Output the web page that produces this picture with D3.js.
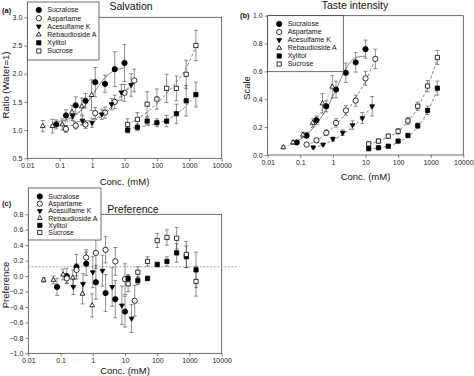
<!DOCTYPE html>
<html lang="en">
<head>
<meta charset="UTF-8">
<title>Sweetener responses</title>
<script src="https://d3js.org/d3.v7.min.js"></script>
<style>
  body { margin: 0; background: #fff; }
  svg { font-family: "Liberation Sans", Arial, sans-serif; }
  .tick text { font-size: 7px; fill: #222; }
  .tick line { stroke: #333; stroke-width: 0.6; }
</style>
</head>
<body>
<div id="chart"></div>
<script>
// concentrations (mM)
const concSucralose = [0.078, 0.156, 0.3125, 0.625, 1.25, 2.5, 5, 10];
const concAspartame = [0.156, 0.3125, 0.625, 1.25, 2.5, 5, 10, 20];
const concAceK = [0.25, 0.5, 1, 2, 4, 8, 16];
const concRebA = [0.03, 0.06, 0.12, 0.24, 0.48, 0.96];
const concXylitol = [12.5, 25, 50, 100, 200, 400, 800, 1600];
const concSucrose = [12.5, 25, 50, 100, 200, 400, 800, 1600];

const seriesNames = ["Sucralose", "Aspartame", "Acesulfame K", "Rebaudioside A", "Xylitol", "Sucrose"];
const xTickValues = [0.01, 0.1, 1, 10, 100, 1000, 10000];
const xTickLabels = ["0.01", "0.1", "1", "10", "100", "1000", "10000"];

// (a) salivation, ratio to water
const salSucralose = [1.10, 1.26, 1.44, 1.52, 1.85, 1.82, 2.08, 2.19];
const salSucraloseErr = [0.08, 0.10, 0.15, 0.13, 0.26, 0.15, 0.31, 0.33];
const salAspartame = [1.02, 1.08, 1.10, 1.30, 1.31, 1.50, 1.66, 1.88];
const salAspartameErr = [0.06, 0.06, 0.07, 0.10, 0.10, 0.12, 0.15, 0.20];
const salAceK = [1.25, 1.17, 1.13, 1.28, 1.46, 1.67, 1.80];
const salAceKErr = [0.08, 0.08, 0.08, 0.09, 0.10, 0.14, 0.20];
const salRebA = [1.07, 1.07, 1.10, 1.32, 1.42, 1.62];
const salRebAErr = [0.10, 0.12, 0.10, 0.12, 0.15, 0.27];
const salXylitol = [1.00, 1.05, 1.16, 1.13, 1.16, 1.29, 1.52, 1.63];
const salXylitolErr = [0.05, 0.06, 0.07, 0.07, 0.10, 0.17, 0.27, 0.22];
const salSucrose = [1.10, 1.19, 1.46, 1.55, 1.74, 1.74, 1.99, 2.50];
const salSucroseErr = [0.10, 0.12, 0.22, 0.18, 0.25, 0.22, 0.25, 0.27];

// (b) taste intensity scale
const intSucralose = [0.09, 0.14, 0.25, 0.35, 0.47, 0.59, 0.665, 0.76];
const intSucraloseErr = [0.01, 0.02, 0.03, 0.04, 0.06, 0.07, 0.07, 0.065];
const intAspartame = [0.075, 0.105, 0.16, 0.23, 0.32, 0.39, 0.55, 0.69];
const intAspartameErr = [0.01, 0.015, 0.02, 0.03, 0.035, 0.04, 0.05, 0.07];
const intAceK = [0.055, 0.075, 0.115, 0.16, 0.215, 0.265, 0.35];
const intAceKErr = [0.01, 0.01, 0.015, 0.02, 0.03, 0.04, 0.07];
const intRebA = [0.055, 0.09, 0.145, 0.23, 0.37, 0.49];
const intRebAErr = [0.01, 0.015, 0.02, 0.03, 0.07, 0.08];
const intXylitol = [0.045, 0.052, 0.063, 0.10, 0.14, 0.21, 0.32, 0.48];
const intXylitolErr = [0.01, 0.01, 0.01, 0.01, 0.015, 0.02, 0.03, 0.05];
const intSucrose = [0.08, 0.10, 0.135, 0.17, 0.245, 0.35, 0.495, 0.70];
const intSucroseErr = [0.015, 0.015, 0.015, 0.02, 0.025, 0.03, 0.04, 0.05];

// (c) preference
const prefSucralose = [-0.14, 0.00, 0.12, 0.16, -0.08, -0.22, -0.30, -0.46];
const prefSucraloseErr = [0.11, 0.10, 0.16, 0.15, 0.22, 0.24, 0.24, 0.20];
const prefAspartame = [-0.03, 0.08, 0.24, 0.30, 0.34, 0.19, -0.04, -0.32];
const prefAspartameErr = [0.06, 0.08, 0.10, 0.20, 0.17, 0.18, 0.20, 0.20];
const prefAceK = [-0.14, -0.10, 0.05, 0.07, -0.14, -0.38, -0.55];
const prefAceKErr = [0.10, 0.13, 0.20, 0.20, 0.25, 0.25, 0.18];
const prefRebA = [-0.05, -0.05, 0.02, -0.02, -0.23, -0.38];
const prefRebAErr = [0.03, 0.05, 0.07, 0.10, 0.13, 0.15];
const prefXylitol = [-0.03, -0.06, -0.03, 0.15, 0.19, 0.30, 0.25, 0.08];
const prefXylitolErr = [0.05, 0.05, 0.03, 0.03, 0.06, 0.12, 0.14, 0.23];
const prefSucrose = [-0.10, 0.05, 0.19, 0.46, 0.50, 0.49, 0.28, -0.07];
const prefSucroseErr = [0.10, 0.07, 0.06, 0.09, 0.10, 0.14, 0.17, 0.19];
const prefReference = 0.12;

// fitted curves: [conc, value]
const fitSalSucralose = [[0.07, 1.15], [0.15, 1.18], [0.3, 1.27], [0.6, 1.43], [1.2, 1.68], [2.5, 1.93], [5, 2.06], [10, 2.1]];
const fitSalRebA = [[0.03, 1.07], [0.1, 1.1], [0.25, 1.2], [0.5, 1.37], [1, 1.63]];
const fitSalAspartame = [[0.15, 1.08], [0.5, 1.1], [1, 1.15], [2, 1.25], [5, 1.45], [10, 1.65], [20, 1.88]];
const fitSalAceK = [[0.25, 1.15], [0.5, 1.15], [1, 1.18], [2, 1.27], [4, 1.42], [8, 1.62], [16, 1.82]];
const fitSalSucrose = [[12.5, 1.1], [25, 1.2], [50, 1.32], [100, 1.47], [200, 1.65], [400, 1.85], [800, 2.1], [1600, 2.48]];
const fitSalXylitol = [[12.5, 1.02], [25, 1.05], [50, 1.08], [100, 1.12], [200, 1.18], [400, 1.28], [800, 1.43], [1600, 1.63]];

const fitIntSucralose = [[0.078, 0.1], [0.15, 0.14], [0.3, 0.22], [0.6, 0.32], [1.2, 0.46], [2.5, 0.62], [5, 0.7], [10, 0.71]];
const fitIntRebA = [[0.03, 0.055], [0.06, 0.085], [0.12, 0.13], [0.24, 0.21], [0.48, 0.33], [0.96, 0.5]];
const fitIntAspartame = [[0.15, 0.07], [0.3, 0.1], [0.6, 0.15], [1.25, 0.22], [2.5, 0.3], [5, 0.41], [10, 0.53], [20, 0.69]];
const fitIntAceK = [[0.25, 0.05], [0.5, 0.075], [1, 0.105], [2, 0.15], [4, 0.2], [8, 0.27], [16, 0.35]];
const fitIntSucrose = [[12.5, 0.08], [25, 0.1], [50, 0.13], [100, 0.17], [200, 0.24], [400, 0.34], [800, 0.49], [1600, 0.69]];
const fitIntXylitol = [[12.5, 0.045], [25, 0.05], [50, 0.065], [100, 0.09], [200, 0.13], [400, 0.2], [800, 0.31], [1600, 0.47]];

const W = 474, H = 376;
const svg = d3.select("#chart").append("svg").attr("width", W).attr("height", H);

// marker shapes, same order as seriesNames
const markers = [
  { type: d3.symbolCircle, size: 22, fill: "#000", rot: 0 },
  { type: d3.symbolCircle, size: 22, fill: "#fff", rot: 0 },
  { type: d3.symbolTriangle, size: 10, fill: "#000", rot: 180 },
  { type: d3.symbolTriangle, size: 10, fill: "#fff", rot: 0 },
  { type: d3.symbolSquare, size: 18, fill: "#000", rot: 0 },
  { type: d3.symbolSquare, size: 18, fill: "#fff", rot: 0 }
];

function drawMarker(g, i, x, y) {
  const m = markers[i];
  g.append("path")
    .attr("d", d3.symbol().type(m.type).size(m.size)())
    .attr("transform", `translate(${x},${y}) rotate(${m.rot})`)
    .attr("fill", m.fill)
    .attr("stroke", "#000")
    .attr("stroke-width", 0.8);
}

function panel(opt) {
  const x = d3.scaleLog().domain([0.01, 10000]).range(opt.xr);
  const y = d3.scaleLinear().domain(opt.yd).range(opt.yr);
  const g = svg.append("g");

  g.append("rect")
    .attr("x", opt.xr[0]).attr("y", opt.yr[1])
    .attr("width", opt.xr[1] - opt.xr[0]).attr("height", opt.yr[0] - opt.yr[1])
    .attr("fill", "none").attr("stroke", "#333").attr("stroke-width", 0.7);

  const xa = g.append("g").attr("transform", `translate(0,${opt.yr[0]})`)
    .call(d3.axisBottom(x).tickValues(xTickValues)
      .tickFormat((d, i) => xTickLabels[i]).tickSizeInner(3).tickSizeOuter(0).tickPadding(2));
  xa.select(".domain").remove();

  const ya = g.append("g").attr("transform", `translate(${opt.xr[0]},0)`)
    .call(d3.axisLeft(y).tickValues(opt.yticks)
      .tickFormat(d3.format(".1f")).tickSizeInner(3).tickSizeOuter(0).tickPadding(2));
  ya.select(".domain").remove();

  if (opt.refLine !== undefined) {
    g.append("line")
      .attr("x1", opt.xr[0]).attr("x2", opt.xr[1] + 15)
      .attr("y1", y(opt.refLine)).attr("y2", y(opt.refLine))
      .attr("stroke", "#999").attr("stroke-width", 0.9).attr("stroke-dasharray", "2,1.5");
  }

  const line = d3.line().x(d => x(d[0])).y(d => y(d[1])).curve(d3.curveMonotoneX);
  (opt.fits || []).forEach(f => {
    g.append("path").datum(f.pts)
      .attr("d", line)
      .attr("fill", "none")
      .attr("stroke", "#666")
      .attr("stroke-width", 0.8)
      .attr("stroke-dasharray", f.dash || null);
  });

  // error bars then markers
  opt.series.forEach((s, si) => {
    s.conc.forEach((c, k) => {
      const cx = x(c), v = s.vals[k], e = s.err[k];
      g.append("line").attr("x1", cx).attr("x2", cx)
        .attr("y1", y(v - e)).attr("y2", y(v + e))
        .attr("stroke", "#444").attr("stroke-width", 0.6);
      [v - e, v + e].forEach(t => {
        g.append("line").attr("x1", cx - 2).attr("x2", cx + 2)
          .attr("y1", y(t)).attr("y2", y(t))
          .attr("stroke", "#444").attr("stroke-width", 0.6);
      });
    });
  });
  opt.series.forEach((s, si) => {
    s.conc.forEach((c, k) => drawMarker(g, si, x(c), y(s.vals[k])));
  });

  // legend
  const L = opt.legend;
  g.append("rect").attr("x", L.x).attr("y", L.y).attr("width", L.w).attr("height", L.h)
    .attr("fill", "#fff").attr("stroke", "#333").attr("stroke-width", 0.7);
  seriesNames.forEach((n, i) => {
    const yy = L.y + L.first + i * L.step;
    drawMarker(g, i, L.x + 11.5, yy);
    g.append("text").attr("x", L.x + 20).attr("y", yy + 2.4)
      .attr("font-size", 7).attr("fill", "#111").text(n);
  });

  // texts
  g.append("text").attr("x", opt.title.x).attr("y", opt.title.y)
    .attr("text-anchor", "middle").attr("font-size", 10.5).attr("fill", "#111").text(opt.title.t);
  g.append("text").attr("x", opt.tag.x).attr("y", opt.tag.y)
    .attr("font-size", 7.5).attr("font-weight", "bold").attr("fill", "#111").text(opt.tag.t);
  g.append("text").attr("x", (opt.xr[0] + opt.xr[1]) / 2).attr("y", opt.xlabY)
    .attr("text-anchor", "middle").attr("font-size", 9.5).attr("fill", "#111").text("Conc. (mM)");
  g.append("text")
    .attr("transform", `translate(${opt.ylab.x},${opt.ylab.y}) rotate(-90)`)
    .attr("text-anchor", "middle").attr("font-size", 9.5).attr("fill", "#111").text(opt.ylab.t);
}

panel({
  xr: [27.3, 221.7], yd: [0.5, 3], yr: [158.3, 17.3],
  yticks: [0.5, 1, 1.5, 2, 2.5, 3],
  series: [
    { conc: concSucralose, vals: salSucralose, err: salSucraloseErr },
    { conc: concAspartame, vals: salAspartame, err: salAspartameErr },
    { conc: concAceK, vals: salAceK, err: salAceKErr },
    { conc: concRebA, vals: salRebA, err: salRebAErr },
    { conc: concXylitol, vals: salXylitol, err: salXylitolErr },
    { conc: concSucrose, vals: salSucrose, err: salSucroseErr }
  ],
  fits: [
    { pts: fitSalSucralose },
    { pts: fitSalRebA, dash: "1,1.5" },
    { pts: fitSalAspartame, dash: "3,2" },
    { pts: fitSalAceK, dash: "3,2" },
    { pts: fitSalSucrose, dash: "3,2" },
    { pts: fitSalXylitol, dash: "3,2" }
  ],
  legend: { x: 27.3, y: 2, w: 71.7, h: 58, first: 8, step: 8.2 },
  title: { x: 131, y: 10, t: "Salvation" },
  tag: { x: 2, y: 13, t: "(a)" },
  xlabY: 185,
  ylab: { x: 9, y: 85, t: "Ratio (Water=1)" }
});

panel({
  xr: [267.7, 463.3], yd: [0, 1], yr: [155, 15.7],
  yticks: [0, 0.2, 0.4, 0.6, 0.8, 1],
  series: [
    { conc: concSucralose, vals: intSucralose, err: intSucraloseErr },
    { conc: concAspartame, vals: intAspartame, err: intAspartameErr },
    { conc: concAceK, vals: intAceK, err: intAceKErr },
    { conc: concRebA, vals: intRebA, err: intRebAErr },
    { conc: concXylitol, vals: intXylitol, err: intXylitolErr },
    { conc: concSucrose, vals: intSucrose, err: intSucroseErr }
  ],
  fits: [
    { pts: fitIntSucralose },
    { pts: fitIntRebA, dash: "1,1.5" },
    { pts: fitIntAspartame, dash: "3,2" },
    { pts: fitIntAceK, dash: "3,2" },
    { pts: fitIntSucrose, dash: "3,2" },
    { pts: fitIntXylitol, dash: "3,2" }
  ],
  legend: { x: 267.7, y: 15.7, w: 75.6, h: 56, first: 8.3, step: 8 },
  title: { x: 355, y: 9, t: "Taste intensity" },
  tag: { x: 240, y: 18, t: "(b)" },
  xlabY: 180,
  ylab: { x: 250, y: 88, t: "Scale" }
});

panel({
  xr: [28.3, 221.7], yd: [-1, 0.8], yr: [353.3, 214.3],
  yticks: [-1, -0.8, -0.6, -0.4, -0.2, 0, 0.2, 0.4, 0.6, 0.8],
  refLine: prefReference,
  series: [
    { conc: concSucralose, vals: prefSucralose, err: prefSucraloseErr },
    { conc: concAspartame, vals: prefAspartame, err: prefAspartameErr },
    { conc: concAceK, vals: prefAceK, err: prefAceKErr },
    { conc: concRebA, vals: prefRebA, err: prefRebAErr },
    { conc: concXylitol, vals: prefXylitol, err: prefXylitolErr },
    { conc: concSucrose, vals: prefSucrose, err: prefSucroseErr }
  ],
  fits: [],
  legend: { x: 28.3, y: 188, w: 72.7, h: 52, first: 8.5, step: 7.2 },
  title: { x: 133, y: 213, t: "Preference" },
  tag: { x: 2, y: 206, t: "(c)" },
  xlabY: 374,
  ylab: { x: 9, y: 285, t: "Preference" }
});
</script>
</body>
</html>
